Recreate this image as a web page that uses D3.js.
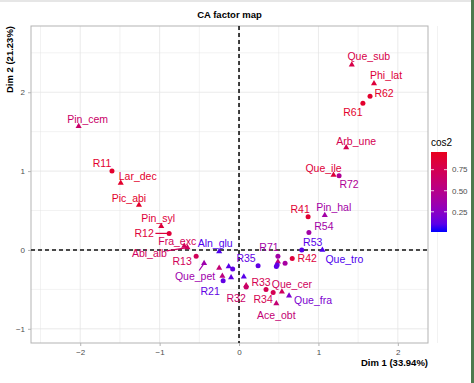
<!DOCTYPE html>
<html>
<head>
<meta charset="utf-8">
<script src="https://cdn.jsdelivr.net/npm/d3@7"></script>
<style>
  body { margin: 0; background: #fff; }
  text { font-family: "Liberation Sans", Arial, sans-serif; }
</style>
</head>
<body>
<svg id="canvas" width="474" height="383"></svg>
<script>
// rows (circles) and columns (triangles) of the CA
const names = ["Que_sub","Phi_lat","R62","R61","Arb_une","Que_ile","R72","Pin_cem","R11","Lar_dec",
  "Pic_abi","Pin_syl","R12","Fra_exc","Abi_alb","R13","Que_pet","Aln_glu","R21","R35",
  "R32","R33","R34","Que_cer","Que_fra","Ace_obt","R71","R42","R53","Que_tro",
  "R54","R41","Pin_hal","Sor_auc","Cor_ave","R22","Fag_syl","Bet_pen","Car_bet","R51",
  "R52","R31","Pop_tre","Til_cor"];
const kind = ["col","col","row","row","col","col","row","col","row","col",
  "col","col","row","col","col","row","col","col","row","row",
  "row","row","row","col","col","col","row","row","row","col",
  "row","row","col","col","col","row","col","col","col","row",
  "row","row","col","col"];
const dim1 = [1.42,1.70,1.65,1.56,1.35,1.19,1.26,-2.02,-1.60,-1.49,
  -1.26,-0.98,-0.88,-0.69,-0.65,-0.54,-0.44,-0.25,-0.20,0.24,
  0.09,0.34,0.43,0.54,0.63,0.47,0.49,0.67,0.79,1.05,
  0.88,0.87,1.08,-0.25,-0.21,-0.08,-0.13,-0.10,0.06,0.47,
  0.48,0.58,0.49,0.09];
const dim2 = [2.35,2.11,1.95,1.86,1.30,0.95,0.94,1.57,1.00,0.85,
  0.57,0.30,0.21,0.05,0.03,-0.08,-0.17,-0.02,-0.39,-0.20,
  -0.47,-0.50,-0.54,-0.53,-0.58,-0.68,-0.08,-0.11,0.00,0.00,
  0.22,0.42,0.44,-0.23,-0.33,-0.24,-0.21,-0.35,-0.34,-0.21,
  -0.19,-0.17,-0.15,-0.45];
const cos2 = [0.78,0.85,0.9,0.9,0.75,0.85,0.45,0.65,0.9,0.9,
  0.9,0.85,0.85,0.72,0.7,0.72,0.35,0.08,0.12,0.12,
  0.65,0.75,0.75,0.7,0.2,0.6,0.38,0.85,0.1,0.08,
  0.38,0.88,0.38,0.6,0.55,0.12,0.1,0.12,0.1,0.1,
  0.12,0.4,0.55,0.7];
// label offsets in px (null = label hidden by repel), third value = draw leader segment
const labelOffset = [[17,-8],[12,-8],[14,-3],[-10,9],[10,-6],[-10,-7],[10,8],[9,-7],[-10,-8],[17,-7],
  [-10,-7],[-3,-8],[-25,0,1],[-7,-5,0],[-38,6,1],[-14,5],[-9,13,1],[-4,-8],[-13,11],[-12,-7],
  [-10,11],[-5,-7],[-10,7],[10,-7],[24,5],[0,12],[-9,-9],[15,0],[11,-8],[22,9],
  [15,-6],[-8,-8],[9,-8],null,null,null,null,null,null,null,
  null,null,null,null];

const xTicks = [-2,-1,0,1,2];
const yTicks = [-1,0,1,2];
const legendTicks = [0.25,0.5,0.75];

const svg = d3.select('#canvas');
const W = 474, H = 383;
const pLeft = 31, pRight = 428, pTop = 26, pBottom = 343;

const x = d3.scaleLinear().domain([-2.62, 2.38]).range([pLeft, pRight]);
const y = d3.scaleLinear().domain([-1.18, 2.84]).range([pBottom, pTop]);
const colorInterp = d3.interpolateLab("#0000ff", "#e8001c");
const cDomain = [0.01, 0.96];
const color = v => colorInterp((v - cDomain[0]) / (cDomain[1] - cDomain[0]));

// frame bits of the original figure
svg.append('rect').attr('x', 0).attr('y', 0).attr('width', W).attr('height', 2).attr('fill', '#e6e6e6');
svg.append('rect').attr('x', 471).attr('y', 0).attr('width', 3).attr('height', H).attr('fill', '#4d7a4d');

// grid
const grid = svg.append('g');
const xGrid = d3.range(-2.5, 2.51, 0.5);
const yGrid = d3.range(-1, 2.51, 0.5);
grid.selectAll('line.vx').data(xGrid).join('line')
  .attr('x1', d => x(d)).attr('x2', d => x(d)).attr('y1', pTop).attr('y2', pBottom)
  .attr('stroke', '#e4e4e4').attr('stroke-width', d => Number.isInteger(d) ? 0.8 : 0.5);
grid.selectAll('line.hy').data(yGrid).join('line')
  .attr('y1', d => y(d)).attr('y2', d => y(d)).attr('x1', pLeft).attr('x2', pRight)
  .attr('stroke', '#e4e4e4').attr('stroke-width', d => Number.isInteger(d) ? 0.8 : 0.5);

svg.append('rect').attr('x', pLeft).attr('y', pTop).attr('width', pRight - pLeft).attr('height', pBottom - pTop)
  .attr('fill', 'none').attr('stroke', '#b3b3b3').attr('stroke-width', 1);

// axes
const fmt = d => d < 0 ? '\u2212' + Math.abs(d) : d;
const xAxis = svg.append('g').attr('transform', `translate(0,${pBottom})`)
  .call(d3.axisBottom(x).tickValues(xTicks).tickSize(3).tickFormat(fmt));
const yAxis = svg.append('g').attr('transform', `translate(${pLeft},0)`)
  .call(d3.axisLeft(y).tickValues(yTicks).tickSize(3).tickFormat(fmt));
[xAxis, yAxis].forEach(a => {
  a.select('.domain').remove();
  a.selectAll('line').attr('stroke', '#b3b3b3');
  a.selectAll('text').attr('fill', '#4d4d4d').style('font-size', '8px')
    .style('font-family', '"Liberation Sans", Arial, sans-serif');
});

// zero lines
svg.append('line').attr('x1', x(0)).attr('x2', x(0)).attr('y1', pTop).attr('y2', pBottom)
  .attr('stroke', '#111').attr('stroke-width', 1.6).attr('stroke-dasharray', '4,3');
svg.append('line').attr('y1', y(0)).attr('y2', y(0)).attr('x1', pLeft).attr('x2', pRight)
  .attr('stroke', '#111').attr('stroke-width', 1.6).attr('stroke-dasharray', '4,3');

const pts = names.map((n, i) => ({name: n, kind: kind[i], d1: dim1[i], d2: dim2[i], c: cos2[i], off: labelOffset[i]}));

// leader segments
svg.append('g').selectAll('line').data(pts.filter(p => p.off && p.off[2])).join('line')
  .attr('x1', d => x(d.d1)).attr('y1', d => y(d.d2))
  .attr('x2', d => x(d.d1) + d.off[0] * 0.55).attr('y2', d => y(d.d2) + d.off[1] * 0.55)
  .attr('stroke', d => color(d.c)).attr('stroke-width', 1.2);

// points
const sym = d3.symbol().type(d3.symbolTriangle).size(16);
svg.append('g').selectAll('path').data(pts.filter(p => p.kind === 'col')).join('path')
  .attr('d', sym).attr('transform', d => `translate(${x(d.d1)},${y(d.d2)})`)
  .attr('fill', d => color(d.c));
svg.append('g').selectAll('circle').data(pts.filter(p => p.kind === 'row')).join('circle')
  .attr('cx', d => x(d.d1)).attr('cy', d => y(d.d2)).attr('r', 2.5)
  .attr('fill', d => color(d.c));

// labels
svg.append('g').selectAll('text').data(pts.filter(p => p.off)).join('text')
  .attr('x', d => x(d.d1) + d.off[0]).attr('y', d => y(d.d2) + d.off[1])
  .attr('text-anchor', 'middle').attr('dy', '0.35em')
  .style('font-size', '10.5px').attr('fill', d => color(d.c))
  .text(d => d.name);

// titles
svg.append('text').attr('x', (pLeft + pRight) / 2).attr('y', 18).attr('text-anchor', 'middle')
  .style('font-size', '9.5px').style('font-weight', 'bold').text('CA factor map');
svg.append('text').attr('x', pRight).attr('y', 366).attr('text-anchor', 'end')
  .style('font-size', '9.5px').style('font-weight', 'bold').text('Dim 1 (33.94%)');
svg.append('text').attr('transform', `translate(13,${pTop}) rotate(-90)`).attr('text-anchor', 'end')
  .style('font-size', '9.5px').style('font-weight', 'bold').text('Dim 2 (21.23%)');

// legend
const lg = svg.append('g');
const lx = 431, lw = 16, ly0 = 152, ly1 = 232;
const ly = d3.scaleLinear().domain(cDomain).range([ly1, ly0]);
const grad = svg.append('defs').append('linearGradient').attr('id', 'cg')
  .attr('x1', 0).attr('y1', 1).attr('x2', 0).attr('y2', 0);
d3.range(0, 1.001, 0.1).forEach(t => grad.append('stop').attr('offset', t).attr('stop-color', colorInterp(t)));
lg.append('text').attr('x', lx).attr('y', 146).style('font-size', '10px').text('cos2');
lg.append('rect').attr('x', lx).attr('y', ly0).attr('width', lw).attr('height', ly1 - ly0).attr('fill', 'url(#cg)');
lg.selectAll('line.l').data(legendTicks).join('line')
  .attr('x1', lx).attr('x2', lx + 3).attr('y1', d => ly(d)).attr('y2', d => ly(d)).attr('stroke', '#fff').attr('opacity', 0.8);
lg.selectAll('line.r').data(legendTicks).join('line')
  .attr('x1', lx + lw - 3).attr('x2', lx + lw).attr('y1', d => ly(d)).attr('y2', d => ly(d)).attr('stroke', '#fff').attr('opacity', 0.8);
lg.selectAll('text.t').data(legendTicks).join('text')
  .attr('x', lx + lw + 5).attr('y', d => ly(d)).attr('dy', '0.35em')
  .style('font-size', '8px').attr('fill', '#4d4d4d').text(d => d.toFixed(2));
</script>
</body>
</html>
